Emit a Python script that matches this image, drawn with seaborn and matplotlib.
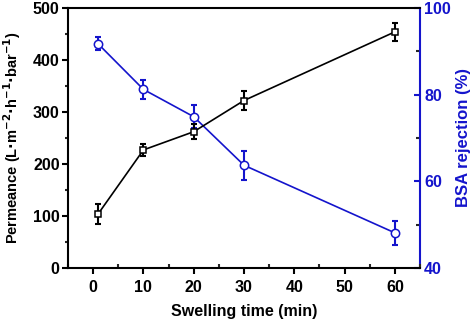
import matplotlib
matplotlib.use("Agg")
import matplotlib.pyplot as plt
import seaborn as sns
import pandas as pd
from matplotlib.ticker import MultipleLocator

time_min = [1, 10, 20, 30, 60]
permeance = [104, 227, 262, 322, 454]
permeance_err = [19, 12, 14, 19, 17]
rejection = [91.7, 81.2, 74.9, 63.7, 48.1]
rejection_err = [1.5, 2.2, 2.6, 3.4, 2.7]

df = pd.DataFrame({"time": time_min, "perm": permeance, "perm_err": permeance_err,
                   "rej": rejection, "rej_err": rejection_err})

sns.set_theme(style="white")
plt.rcParams["font.family"] = ["Liberation Sans", "DejaVu Sans"]
plt.rcParams["font.weight"] = "bold"
plt.rcParams["mathtext.default"] = "bf"

BLUE = "#1414cc"

fig = plt.figure(figsize=(4.74, 3.32), dpi=100)
ax = fig.add_axes([0.1435, 0.193, 0.7425, 0.783])
ax2 = ax.twinx()

# Permeance (left)
ax.errorbar(df["time"], df["perm"], yerr=df["perm_err"], fmt="none", ecolor="black",
            elinewidth=1.5, capsize=2.5, capthick=1.5, zorder=2)
sns.lineplot(data=df, x="time", y="perm", ax=ax, color="black", lw=1.2, marker="s",
             markersize=5, markerfacecolor="white", markeredgecolor="black",
             markeredgewidth=1.1, zorder=3)

# Rejection (right)
ax2.errorbar(df["time"], df["rej"], yerr=df["rej_err"], fmt="none", ecolor=BLUE,
             elinewidth=1.5, capsize=2.5, capthick=1.5, zorder=2)
sns.lineplot(data=df, x="time", y="rej", ax=ax2, color=BLUE, lw=1.2, marker="o",
             markersize=6, markerfacecolor="white", markeredgecolor=BLUE,
             markeredgewidth=1.1, zorder=3)

ax.set_xlim(-5, 65)
ax.set_ylim(0, 500)
ax2.set_ylim(40, 100)

ax.xaxis.set_major_locator(MultipleLocator(10))
ax.xaxis.set_minor_locator(MultipleLocator(5))
ax.yaxis.set_major_locator(MultipleLocator(100))
ax.yaxis.set_minor_locator(MultipleLocator(50))
ax2.yaxis.set_major_locator(MultipleLocator(20))
ax2.yaxis.set_minor_locator(MultipleLocator(10))

for s in ["left", "bottom", "top"]:
    ax.spines[s].set_color("black")
    ax.spines[s].set_linewidth(1.5)
ax.spines["right"].set_visible(False)
for s in ["left", "bottom", "top"]:
    ax2.spines[s].set_visible(False)
ax2.spines["right"].set_color(BLUE)
ax2.spines["right"].set_linewidth(1.5)

ax.tick_params(axis="x", which="major", direction="out", length=4, width=1.5,
               labelsize=11.5, colors="black", bottom=True, top=False, pad=5)
ax.tick_params(axis="x", which="minor", direction="in", length=3, width=1.5, bottom=True, top=False)
ax.tick_params(axis="y", which="major", direction="out", length=4, width=1.5,
               labelsize=11.5, colors="black", left=True, right=False, pad=2)
ax.tick_params(axis="y", which="minor", direction="out", length=2.5, width=1.5, left=True, right=False)
ax2.tick_params(axis="y", which="major", direction="in", length=4, width=1.5,
                labelsize=11.5, colors=BLUE, right=True, left=False, pad=3)
ax2.tick_params(axis="y", which="minor", direction="in", length=3, width=1.5, right=True, left=False)

for lab in ax.get_xticklabels() + ax.get_yticklabels() + ax2.get_yticklabels():
    lab.set_fontweight("bold")

ax.set_xlabel("Swelling time (min)", fontsize=11.5, fontweight="bold", color="black", labelpad=6)
ax.set_ylabel(r"Permeance (L$\cdot$m$^{-2}$$\cdot$h$^{-1}$$\cdot$bar$^{-1}$)", fontsize=10.5,
              fontweight="bold", color="black", labelpad=7)
ax2.set_ylabel("BSA rejection (%)", fontsize=12, fontweight="bold", color=BLUE, labelpad=4)

ax.grid(False)
ax2.grid(False)
ax.set_zorder(ax2.get_zorder() + 1)
ax.patch.set_visible(False)

fig.savefig("out.png", dpi=100)
